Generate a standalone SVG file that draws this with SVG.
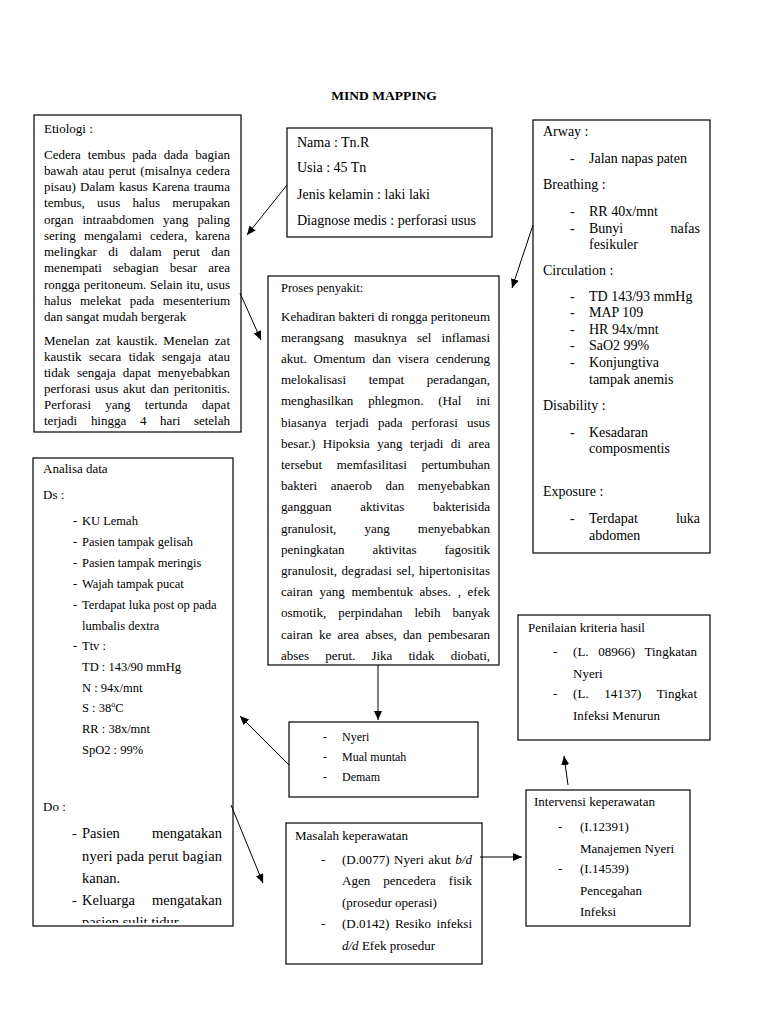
<svg xmlns="http://www.w3.org/2000/svg" width="768" height="1024" viewBox="0 0 768 1024">
<style>
text{font-family:"Liberation Serif","Times New Roman",serif;fill:#000}
.b{fill:#fff;stroke:#000;stroke-width:1.2}
.c{stroke:#000;stroke-width:1;fill:none;marker-end:url(#ah)}
.s12{font-size:12px}.s13{font-size:13px}.s14{font-size:14px}.s15{font-size:14.5px}.s125{font-size:12.5px}
.ttl{font-size:13.5px;font-weight:bold}
</style>
<defs>
<marker id="ah" markerWidth="10" markerHeight="8" refX="9" refY="4" orient="auto" markerUnits="userSpaceOnUse"><path d="M0,0 L9,4 L0,8 z" fill="#000"/></marker>
<clipPath id="clipA"><rect x="33" y="458" width="200" height="465"/></clipPath>
</defs>
<rect width="768" height="1024" fill="#fff"/>
<text class="ttl" x="384" y="100" text-anchor="middle">MIND MAPPING</text>

<g id="etiologi">
<rect class="b" x="34" y="115" width="207" height="317"/>
<g class="s13">
<text x="44" y="132.5">Etiologi :</text>
<text x="44" y="158.5" textLength="186" lengthAdjust="spacing" style="word-spacing:3.7px">Cedera tembus pada dada bagian</text>
<text x="44" y="174.7" textLength="186" lengthAdjust="spacing" style="word-spacing:1.4px">bawah atau perut (misalnya cedera</text>
<text x="44" y="191" textLength="186" lengthAdjust="spacing" style="word-spacing:1px">pisau) Dalam kasus Karena trauma</text>
<text x="44" y="207.2" textLength="186" lengthAdjust="spacing" style="word-spacing:9px">tembus, usus halus merupakan</text>
<text x="44" y="223.5" textLength="186" lengthAdjust="spacing" style="word-spacing:5.8px">organ intraabdomen yang paling</text>
<text x="44" y="239.7" textLength="186" lengthAdjust="spacing" style="word-spacing:5px">sering mengalami cedera, karena</text>
<text x="44" y="256" textLength="186" lengthAdjust="spacing" style="word-spacing:8.2px">melingkar di dalam perut dan</text>
<text x="44" y="272.2" textLength="186" lengthAdjust="spacing" style="word-spacing:8px">menempati sebagian besar area</text>
<text x="44" y="288.5" textLength="186" lengthAdjust="spacing" style="word-spacing:0.4px">rongga peritoneum. Selain itu, usus</text>
<text x="44" y="304.7" textLength="186" lengthAdjust="spacing" style="word-spacing:5.3px">halus melekat pada mesenterium</text>
<text x="44" y="321">dan sangat mudah bergerak</text>
<text x="44" y="344.5" textLength="186" lengthAdjust="spacing" style="word-spacing:2.7px">Menelan zat kaustik. Menelan zat</text>
<text x="44" y="360.5" textLength="186" lengthAdjust="spacing" style="word-spacing:4.1px">kaustik secara tidak sengaja atau</text>
<text x="44" y="376.5" textLength="186" lengthAdjust="spacing" style="word-spacing:3.6px">tidak sengaja dapat menyebabkan</text>
<text x="44" y="392.5" textLength="186" lengthAdjust="spacing" style="word-spacing:1.6px">perforasi usus akut dan peritonitis.</text>
<text x="44" y="408.5" textLength="186" lengthAdjust="spacing" style="word-spacing:11px">Perforasi yang tertunda dapat</text>
<text x="44" y="424.5" textLength="186" lengthAdjust="spacing" style="word-spacing:10.4px">terjadi hingga 4 hari setelah</text>
</g>
</g>

<g id="identitas">
<rect class="b" x="287" y="128" width="205" height="109"/>
<g class="s14">
<text x="297" y="147">Nama : Tn.R</text>
<text x="297" y="172">Usia : 45 Tn</text>
<text x="297" y="199">Jenis kelamin : laki laki</text>
<text x="297" y="225">Diagnose medis : perforasi usus</text>
</g>
</g>

<g id="abcde">
<rect class="b" x="533" y="120" width="177" height="433"/>
<g class="s14">
<text x="543" y="136">Arway :</text>
<text x="570" y="163">-</text><text x="589" y="163">Jalan napas paten</text>
<text x="543" y="189">Breathing :</text>
<text x="570" y="216">-</text><text x="589" y="216">RR 40x/mnt</text>
<text x="570" y="232.5">-</text><text x="589" y="232.5">Bunyi</text><text x="700" y="232.5" text-anchor="end">nafas</text>
<text x="589" y="249">fesikuler</text>
<text x="543" y="275">Circulation :</text>
<text x="570" y="301">-</text><text x="589" y="301">TD 143/93 mmHg</text>
<text x="570" y="317">-</text><text x="589" y="317">MAP 109</text>
<text x="570" y="333.5">-</text><text x="589" y="333.5">HR 94x/mnt</text>
<text x="570" y="350">-</text><text x="589" y="350">SaO2 99%</text>
<text x="570" y="367">-</text><text x="589" y="367">Konjungtiva</text>
<text x="589" y="384">tampak anemis</text>
<text x="543" y="410">Disability :</text>
<text x="570" y="437">-</text><text x="589" y="437">Kesadaran</text>
<text x="589" y="453">composmentis</text>
<text x="543" y="496">Exposure :</text>
<text x="570" y="523">-</text><text x="589" y="523">Terdapat</text><text x="700" y="523" text-anchor="end">luka</text>
<text x="589" y="540">abdomen</text>
</g>
</g>

<g id="proses">
<rect class="b" x="268" y="276" width="231" height="389"/>
<text class="s125" x="281" y="292">Proses penyakit:</text>
<g class="s13">
<text x="281" y="320.5" textLength="209" lengthAdjust="spacing">Kehadiran bakteri di rongga peritoneum</text>
<text x="281" y="341.7" textLength="209" lengthAdjust="spacing" style="word-spacing:6.9px">merangsang masuknya sel inflamasi</text>
<text x="281" y="362.9" textLength="209" lengthAdjust="spacing" style="word-spacing:3.6px">akut. Omentum dan visera cenderung</text>
<text x="281" y="384.1" textLength="209" lengthAdjust="spacing" style="word-spacing:19.5px">melokalisasi tempat peradangan,</text>
<text x="281" y="405.3" textLength="209" lengthAdjust="spacing" style="word-spacing:11.6px">menghasilkan phlegmon. (Hal ini</text>
<text x="281" y="426.5" textLength="209" lengthAdjust="spacing" style="word-spacing:5.8px">biasanya terjadi pada perforasi usus</text>
<text x="281" y="447.7" textLength="209" lengthAdjust="spacing" style="word-spacing:4.1px">besar.) Hipoksia yang terjadi di area</text>
<text x="281" y="468.9" textLength="209" lengthAdjust="spacing" style="word-spacing:11.3px">tersebut memfasilitasi pertumbuhan</text>
<text x="281" y="490.1" textLength="209" lengthAdjust="spacing" style="word-spacing:10.3px">bakteri anaerob dan menyebabkan</text>
<text x="281" y="511.3" textLength="209" lengthAdjust="spacing" style="word-spacing:25.4px">gangguan aktivitas bakterisida</text>
<text x="281" y="532.5" textLength="209" lengthAdjust="spacing" style="word-spacing:24.9px">granulosit, yang menyebabkan</text>
<text x="281" y="553.7" textLength="209" lengthAdjust="spacing" style="word-spacing:24.7px">peningkatan aktivitas fagositik</text>
<text x="281" y="574.9" textLength="209" lengthAdjust="spacing" style="word-spacing:1.1px">granulosit, degradasi sel, hipertonisitas</text>
<text x="281" y="596.1" textLength="209" lengthAdjust="spacing" style="word-spacing:3.4px">cairan yang membentuk abses. , efek</text>
<text x="281" y="617.3" textLength="209" lengthAdjust="spacing" style="word-spacing:8.7px">osmotik, perpindahan lebih banyak</text>
<text x="281" y="638.5" textLength="209" lengthAdjust="spacing" style="word-spacing:3px">cairan ke area abses, dan pembesaran</text>
<text x="281" y="659.7" textLength="209" lengthAdjust="spacing" style="word-spacing:12.9px">abses perut. Jika tidak diobati,</text>
</g>
</g>

<g id="analisa">
<rect class="b" x="33" y="458" width="200" height="468"/>
<g class="s13">
<text x="43" y="472.5">Analisa data</text>
<text x="43" y="498.5">Ds :</text>
<text x="43" y="810.5">Do :</text>
</g>
<g class="s125">
<text x="73" y="524.5">-</text><text x="82" y="524.5">KU Lemah</text>
<text x="73" y="545.5">-</text><text x="82" y="545.5">Pasien tampak gelisah</text>
<text x="73" y="566.5">-</text><text x="82" y="566.5">Pasien tampak meringis</text>
<text x="73" y="587.5">-</text><text x="82" y="587.5">Wajah tampak pucat</text>
<text x="73" y="608.5">-</text><text x="82" y="608.5">Terdapat luka post op pada</text>
<text x="82" y="629.5">lumbalis dextra</text>
<text x="73" y="649.5">-</text><text x="82" y="649.5">Ttv :</text>
<text x="82" y="670.5">TD : 143/90 mmHg</text>
<text x="82" y="691.5">N : 94x/mnt</text>
<text x="82" y="711.5">S : 38<tspan font-size="8" dy="-5">o</tspan><tspan dy="5">C</tspan></text>
<text x="82" y="732.5">RR : 38x/mnt</text>
<text x="82" y="753.5">SpO2 : 99%</text>
</g>
<g class="s15" clip-path="url(#clipA)">
<text x="72" y="837.5">-</text><text x="82" y="837.5">Pasien</text><text x="222" y="837.5" text-anchor="end">mengatakan</text>
<text x="82" y="860.5" textLength="140" lengthAdjust="spacing">nyeri pada perut bagian</text>
<text x="82" y="883">kanan.</text>
<text x="72" y="905">-</text><text x="82" y="905">Keluarga</text><text x="222" y="905" text-anchor="end">mengatakan</text>
<text x="82" y="926.5">pasien sulit tidur</text>
</g>
</g>

<g id="gejala">
<rect class="b" x="289" y="722" width="189" height="75"/>
<g class="s12">
<text x="323" y="741">-</text><text x="342" y="741">Nyeri</text>
<text x="323" y="761">-</text><text x="342" y="761">Mual muntah</text>
<text x="323" y="781">-</text><text x="342" y="781">Demam</text>
</g>
</g>

<g id="penilaian">
<rect class="b" x="518" y="615" width="192" height="125"/>
<g class="s13">
<text x="528" y="631.5">Penilaian kriteria hasil</text>
<text x="553" y="655.5">-</text><text x="573" y="655.5" textLength="124" lengthAdjust="spacing" style="word-spacing:6.2px">(L. 08966) Tingkatan</text>
<text x="573" y="677.5">Nyeri</text>
<text x="553" y="697.5">-</text><text x="573" y="697.5" textLength="124" lengthAdjust="spacing" style="word-spacing:12.3px">(L. 14137) Tingkat</text>
<text x="573" y="719.5">Infeksi Menurun</text>
</g>
</g>

<g id="intervensi">
<rect class="b" x="526" y="790" width="164" height="136"/>
<g class="s13">
<text x="534" y="805.5">Intervensi keperawatan</text>
<text x="558" y="830.5">-</text><text x="580" y="830.5">(I.12391)</text>
<text x="580" y="852.5">Manajemen Nyeri</text>
<text x="558" y="872.5">-</text><text x="580" y="872.5">(I.14539)</text>
<text x="580" y="894.5">Pencegahan</text>
<text x="580" y="915.5">Infeksi</text>
</g>
</g>

<g id="masalah">
<rect class="b" x="286" y="823" width="196" height="141"/>
<g class="s13">
<text x="295" y="839.5">Masalah keperawatan</text>
<text x="321" y="863.5">-</text><text x="342" y="863.5" textLength="130" lengthAdjust="spacing" style="word-spacing:1.2px">(D.0077) Nyeri akut <tspan font-style="italic">b/d</tspan></text>
<text x="342" y="884.5" textLength="130" lengthAdjust="spacing" style="word-spacing:9.7px">Agen pencedera fisik</text>
<text x="342" y="906.5">(prosedur operasi)</text>
<text x="321" y="927.5">-</text><text x="342" y="927.5" textLength="130" lengthAdjust="spacing" style="word-spacing:2.3px">(D.0142) Resiko infeksi</text>
<text x="342" y="949.5"><tspan font-style="italic">d/d</tspan> Efek prosedur</text>
</g>
</g>

<g id="connectors">
<line class="c" x1="287" y1="185" x2="247" y2="235"/>
<line class="c" x1="240" y1="293" x2="261" y2="340"/>
<line class="c" x1="533" y1="225" x2="512" y2="288"/>
<line class="c" x1="378" y1="665" x2="378" y2="720"/>
<line class="c" x1="289" y1="765" x2="240" y2="716"/>
<line class="c" x1="231" y1="805" x2="263" y2="883"/>
<line class="c" x1="480" y1="857" x2="522" y2="857"/>
<line class="c" x1="568" y1="785" x2="564" y2="756"/>
</g>
</svg>
